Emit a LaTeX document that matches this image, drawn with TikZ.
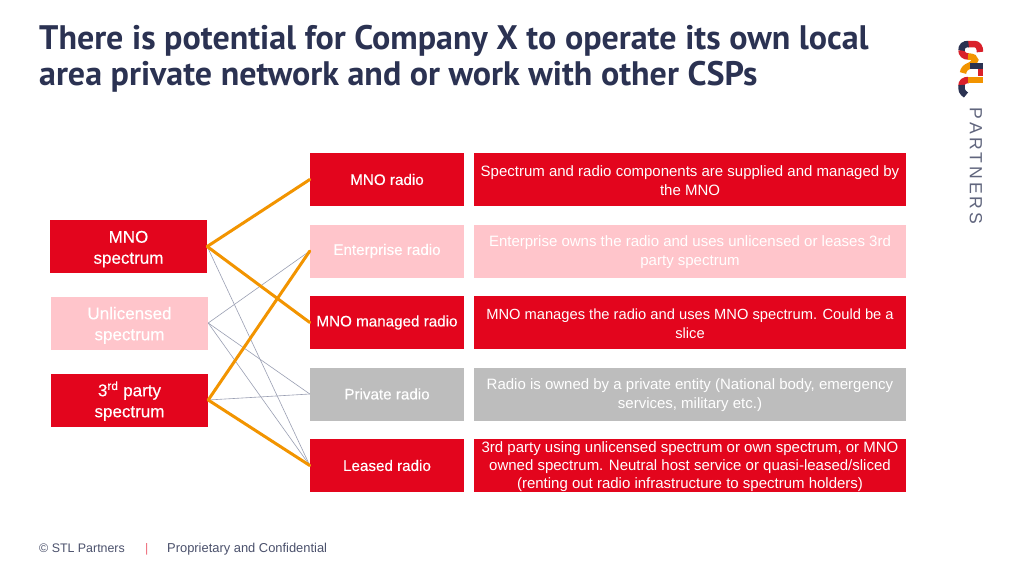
\documentclass[tikz,border=0pt]{standalone}
\usepackage{fontspec}
\setmainfont{Liberation Sans}
\newfontfamily\titlefont{PT Sans}
\newfontfamily\medfont[FakeBold=0.25]{Liberation Sans}
\newcommand{\lowerleft}{\rule{0pt}{17pt}}
\newcommand{\lowerdesc}{\rule{0pt}{13pt}}
\definecolor{stlred}{HTML}{E3051D}
\definecolor{stlpink}{HTML}{FFC5CB}
\definecolor{stlgrey}{HTML}{BDBDBD}
\definecolor{stlnavy}{HTML}{2B3252}
\definecolor{stlorange}{HTML}{F29400}
\definecolor{thinline}{HTML}{9A9FB3}
\definecolor{logored}{HTML}{D9202A}
\tikzset{
  box/.style={draw=none,minimum height=53pt,inner sep=0pt,align=center,text=white},
  leftbox/.style={box,minimum width=157pt,font=\medfont\fontsize{17}{21}\selectfont},
  midbox/.style={box,minimum width=154pt,font=\medfont\fontsize{15.2}{18}\selectfont},
  descbox/.style={box,minimum width=432pt,font=\fontsize{15}{18.3}\selectfont},
  hot/.style={fill=stlred},
  soft/.style={fill=stlpink},
  dull/.style={fill=stlgrey},
  major/.style={draw=stlorange,line width=3pt,line cap=round},
  minor/.style={draw=thinline,line width=0.6pt},
  titleline/.style={anchor=base west,text=stlnavy,font=\titlefont\bfseries\fontsize{34}{37}\selectfont,inner sep=0pt},
  foot/.style={anchor=base west,inner sep=0pt},
  logostroke/.style={line width=6.5pt},
}
\begin{document}
\begin{tikzpicture}[x=1pt,y=-1pt]
\useasboundingbox (0,0) rectangle (1024,576);
\fill[white] (0,0) rectangle (1024,576);
\node[titleline] (tone) at (39,49) {There is potential for Company X to operate its own local};
\node[titleline] (ttwo) at (39,85) {area private network and or work with other CSPs};
\node[leftbox,hot] (lm) at (128.5,246.5) {\lowerleft MNO\\spectrum};
\node[leftbox,soft] (lu) at (129.5,323) {\lowerleft Unlicensed\\spectrum};
\node[leftbox,hot] (lt) at (129.5,400) {\lowerleft 3\textsuperscript{rd} party\\spectrum};
\node[midbox,hot] (mr) at (387,179.5) {MNO radio};
\node[midbox,soft] (er) at (387,251) {Enterprise radio};
\node[midbox,hot] (mm) at (387,322.5) {MNO managed radio};
\node[midbox,dull] (pr) at (387,394) {Private radio};
\node[midbox,hot] (lr) at (387,465.5) {Leased radio};
\node[descbox,hot] (d1) at (690,179.5) {\lowerdesc Spectrum and radio components are supplied and managed by\\the MNO};
\node[descbox,soft] (d2) at (690,251) {\lowerdesc Enterprise owns the radio and uses unlicensed or leases 3rd\\party spectrum};
\node[descbox,hot,font=\fontsize{14.7}{18.3}\selectfont] (d3) at (690,322.5) {\lowerdesc MNO manages the radio and uses MNO spectrum. Could be a\\slice};
\node[descbox,dull] (d4) at (690,394) {\lowerdesc Radio is owned by a private entity (National body, emergency\\services, military etc.)};
\node[descbox,hot] (d5) at (690,465.5) {\lowerdesc 3rd party using unlicensed spectrum or own spectrum, or MNO\\owned spectrum. Neutral host service or quasi-leased/sliced\\(renting out radio infrastructure to spectrum holders)};
\draw[minor] (lm.east) -- (lr.west);
\draw[minor] (lu.east) -- (er.west);
\draw[minor] (lu.east) -- (pr.west);
\draw[minor] (lu.east) -- (lr.west);
\draw[minor] (lt.east) -- (pr.west);
\draw[major] (lm.east) -- (mr.west);
\draw[major] (lm.east) -- (mm.west);
\draw[major] (lt.east) -- (er.west);
\draw[major] (lt.east) -- (lr.west);
\node[foot,text=stlnavy!85,font=\fontsize{12.4}{14}\selectfont] (fa) at (39,552) {© STL Partners};
\node[foot,text=stlred!60,font=\fontsize{12.4}{14}\selectfont] (fb) at (145,552) {|};
\node[foot,text=stlnavy!85,font=\fontsize{12.9}{14}\selectfont] (fc) at (167,552) {Proprietary and Confidential};
\node[rotate=-90,text=stlnavy!75,inner sep=0pt,font=\fontsize{17.6}{20}\selectfont] (pa) at (976,166) {P\,A\,R\,T\,N\,E\,R\,S};
% logo
\begin{scope}[logostroke]
\draw[logored] (968,44) -- (974,44) .. controls (978,44) and (980,47) .. (980,52);
\draw[logored] (961.5,50) .. controls (961.5,54) and (964,56.5) .. (968.5,56.5);
\draw[stlnavy] (961.5,50.5) .. controls (961.5,46) and (964,44) .. (968.5,44);
\draw[stlorange] (968,56.5) .. controls (978,56.5) and (976,63) .. (970,65.5) .. controls (966,67) and (963.5,69) .. (963,73);
\fill[stlnavy] (970,63) rectangle (983,69);
\fill[logored] (977.5,69) rectangle (983,76);
\draw[logored] (961.5,86) .. controls (961.5,82) and (964,80) .. (968.5,80);
\fill[stlorange] (968,77) rectangle (983,83);
\draw[stlnavy] (961.5,85) .. controls (961.5,90) and (961.5,92) .. (966,95);
\end{scope}
\end{tikzpicture}
\end{document}
